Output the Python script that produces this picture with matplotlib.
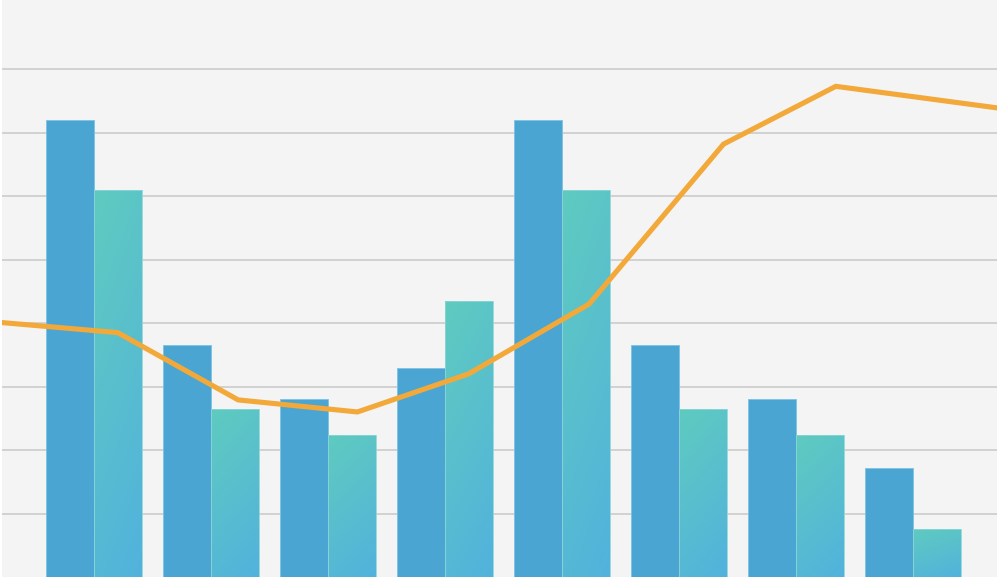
import numpy as np
import matplotlib
matplotlib.use("Agg")
import matplotlib.pyplot as plt
from matplotlib.colors import LinearSegmentedColormap

# ---- data ----
categories = list(range(8))
series_a = [7.2, 3.65, 2.8, 3.3, 7.2, 3.65, 2.8, 1.72]     # blue bars
series_b = [6.1, 2.65, 2.24, 4.35, 6.1, 2.65, 2.24, 0.76]  # teal gradient bars
line_x = [-0.80, 0.20, 1.23, 2.25, 3.20, 4.23, 5.38, 6.34, 7.72]
line_y = [4.01, 3.85, 2.79, 2.60, 3.20, 4.30, 6.82, 7.73, 7.39]
grid_ticks = [1, 2, 3, 4, 5, 6, 7, 8]

BLUE = "#4aa5d2"
TEAL_TOP = "#5fcbbf"
TEAL_BOT = "#52b2dd"
ORANGE = "#f2a93a"

fig = plt.figure(figsize=(10, 5.85), dpi=100, facecolor="white")
ax = fig.add_axes([2 / 1000, 8 / 585, 995 / 1000, 577 / 585])
ax.set_facecolor("#f4f4f4")

width = 0.41
x = np.array(categories, dtype=float)

ax.bar(x - width / 2, series_a, width=width, color=BLUE,
       edgecolor="#7cc2e3", linewidth=0.6, zorder=2)
bars_b = ax.bar(x + width / 2, series_b, width=width, color="none",
                edgecolor="#8ad6d6", linewidth=0.6, zorder=2)

cmap = LinearSegmentedColormap.from_list("tb", [TEAL_TOP, TEAL_BOT])
for bar in bars_b:
    bx, by = bar.get_x(), bar.get_y()
    bw, bh = bar.get_width(), bar.get_height()
    n = 64
    u = np.linspace(0, 1, n)[None, :]
    v = np.linspace(0, 1, n)[:, None]  # 0 at top row
    grad = 0.25 * u + 0.75 * v
    im = ax.imshow(grad, cmap=cmap, vmin=0, vmax=1, aspect="auto",
                   extent=[bx, bx + bw, by, by + bh], origin="upper",
                   zorder=1.9, interpolation="bilinear")
    im.set_clip_path(bar)

ax.plot(line_x, line_y, color=ORANGE, linewidth=3.7, zorder=3,
        solid_joinstyle="miter", solid_capstyle="butt")

ax.set_xlim(-0.789, 7.718)
ax.set_ylim(0, 9.09)
ax.set_yticks(grid_ticks)
ax.set_xticks([])
ax.grid(axis="y", color="#c8c8c8", linewidth=1.1, zorder=0)
ax.set_axisbelow(True)
ax.tick_params(left=False, labelleft=False, bottom=False, labelbottom=False)
for s in ax.spines.values():
    s.set_visible(False)

fig.savefig("out.png", dpi=100, facecolor="white")
